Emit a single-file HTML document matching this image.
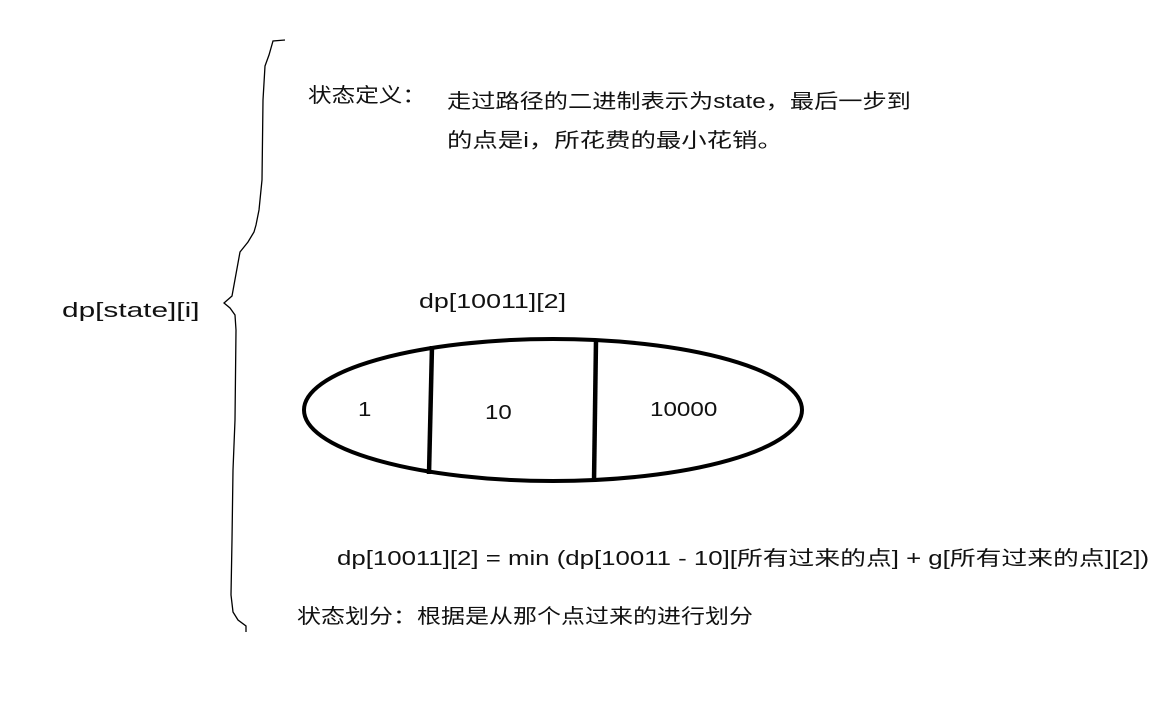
<!DOCTYPE html>
<html><head><meta charset="utf-8"><style>
body{margin:0;width:1166px;height:709px;background:#fff;position:relative;overflow:hidden;font-family:"Liberation Sans","Noto Sans CJK SC",sans-serif;color:#111}
.t{position:absolute;white-space:nowrap;font-size:20px;line-height:1;transform-origin:0 50%}
</style></head><body>
<svg width="1166" height="709" style="position:absolute;left:0;top:0">
<path d="M285,40 L273,41 L269,55 L265,66 L263,100 L262,180 L259,210 L256,225 L254,232 L248,242 L240,252 L232,296 L224,303 L230,308 L235,315 L236,330 L235,420 L233,470 L232,540 L231,595 L233,612 L238,620 L246,626 L246,632" fill="none" stroke="#000" stroke-width="1.3"/>
<ellipse cx="553" cy="410" rx="249" ry="71" fill="none" stroke="#000" stroke-width="4"/>
<path d="M432,346 L429,474" stroke="#000" stroke-width="4.5"/>
<path d="M596,340 L594,482" stroke="#000" stroke-width="4.5"/>
</svg>
<div class="t" style="left:308px;top:86px;transform:scaleX(1.18)">状态定义：</div>
<div class="t" style="left:447px;top:92px;transform:scaleX(1.21)">走过路径的二进制表示为state，最后一步到</div>
<div class="t" style="left:447px;top:131px;transform:scaleX(1.27)">的点是i，所花费的最小花销。</div>
<div class="t" style="left:62px;top:301px;transform:scaleX(1.49)">dp[state][i]</div>
<div class="t" style="left:419px;top:292px;transform:scaleX(1.34)">dp[10011][2]</div>
<div class="t" style="left:358px;top:400px;transform:scaleX(1.2)">1</div>
<div class="t" style="left:485px;top:403px;transform:scaleX(1.2)">10</div>
<div class="t" style="left:650px;top:400px;transform:scaleX(1.21)">10000</div>
<div class="t" style="left:337px;top:549px;transform:scaleX(1.29)">dp[10011][2] = min (dp[10011 - 10][所有过来的点] + g[所有过来的点][2])</div>
<div class="t" style="left:297px;top:607px;transform:scaleX(1.2)">状态划分：根据是从那个点过来的进行划分</div>
</body></html>
